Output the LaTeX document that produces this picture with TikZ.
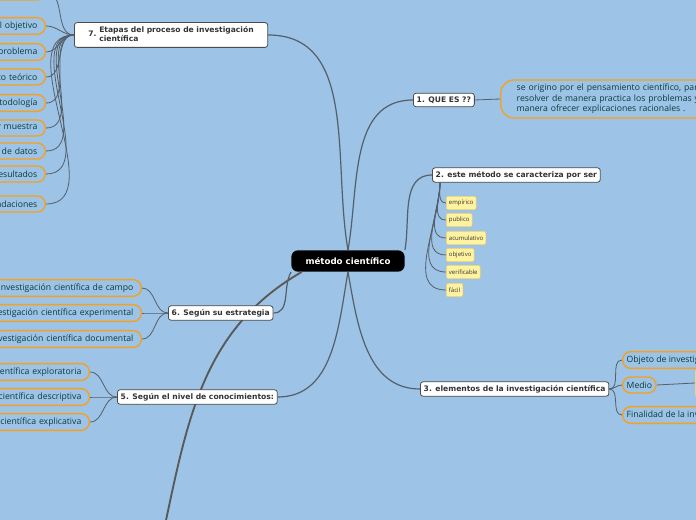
\documentclass[tikz,border=0pt]{standalone}
\usepackage{fontspec}
\setmainfont{Open Sans}
\newfontfamily\brfont{DejaVu Sans}
\definecolor{bg}{RGB}{157,195,230}
\definecolor{org}{RGB}{245,160,30}
\definecolor{ctext}{RGB}{10,60,60}
\definecolor{yfill}{RGB}{255,242,160}
\definecolor{yedge}{RGB}{240,210,100}
\definecolor{lnk}{RGB}{85,95,105}
\begin{document}
\begin{tikzpicture}[x=0.75pt,y=-0.75pt,
  branch/.style={draw=black!70,fill=white,rounded corners=2pt,line width=0.6pt,font=\brfont\bfseries\fontsize{5.7}{6.8}\selectfont,text=black!80,inner sep=2.5pt,anchor=west},
  leaf/.style={draw=org,fill=bg,rounded corners=6pt,line width=1pt,font=\fontsize{6.5}{8}\selectfont,text=ctext,minimum height=12pt,inner sep=3pt},
  leafL/.style={leaf,anchor=east,text width=80pt,align=right,inner xsep=6pt},
  yl/.style={draw=yedge,fill=yfill,rounded corners=1.5pt,font=\fontsize{4.5}{5}\selectfont,text=black!80,inner sep=2pt,minimum height=10pt,anchor=west},
  conn/.style={draw=lnk,line width=0.6pt},
  thick conn/.style={draw=black!65,line width=1.4pt}]
\useasboundingbox[fill=bg] (0,0) rectangle (696,520);
\node[fill=black,rounded corners=5pt,text=white,font=\brfont\bfseries\fontsize{6.5}{8}\selectfont,minimum width=85pt,minimum height=16pt] (c) at (348,261) {método científico};
\coordinate (down) at (165,525);
\begin{pgfonlayer}{main}\end{pgfonlayer}
\draw[thick conn] ([xshift=8pt]c.south west) to[out=-150,in=78] (down);
% branch 7
\node[branch,minimum width=145pt,minimum height=18pt,align=left,inner xsep=1.5pt] (b7) at (74,35) {7.\ \begin{tabular}[c]{@{}l@{}}Etapas del proceso de investigación\\científica\end{tabular}};
\foreach \n/\y/\t in {a/-8/{},b/26/el objetivo,d/52/problema,e/77/co teórico,f/103/todología,g/128/y muestra,h/151/n de datos,i/174/esultados,j/204/ndaciones}{
  \node[leafL] (l\n) at (46,\y) {\t};
  \draw[conn] (l\n.east) to[out=0,in=180] (b7.west);
}
% branch 1
\node[branch] (b1) at (413,100) {1. QUE ES ??};
\node[leaf,anchor=west,align=left,text width=150pt,inner xsep=12pt,rounded corners=10pt] (q) at (500,99) {se origino por el pensamiento científico, para\\resolver de manera practica los problemas y de\\manera ofrecer explicaciones racionales .};
\draw[conn] (b1.east) -- (q.west);
% branch 2
\node[branch] (b2) at (432,175) {2. este método se caracteriza por ser};
\foreach \n/\y/\t in {1/203/empírico,2/220/publico,3/238/acumulativo,4/255/objetivo,5/272/verificable,6/290/fácil}{
  \node[yl] (y\n) at (446,\y) {\t};
  \draw[conn] ([xshift=6pt]b2.south west) to[out=-90,in=180] (y\n.west);
}
% branch 3
\node[branch] (b3) at (420,389) {3. elementos de la investigación científica};
\node[leaf,anchor=west,minimum width=70pt,align=left] (o) at (622,360) {Objeto de investigación};
\node[leaf,anchor=west] (m) at (622,385) {Medio};
\node[yl,minimum height=20pt,minimum width=20pt] (my) at (695,383) {};
\node[leaf,anchor=west] (fi) at (622,415) {Finalidad de la investigación};
\draw[conn] (b3.east) to[out=0,in=180] (o.west);
\draw[conn] (b3.east) to[out=0,in=180] (m.west);
\draw[conn] (b3.east) to[out=0,in=180] (fi.west);
\draw[conn] (m.east) -- (my.west);
% branch 6
\node[branch] (b6) at (168,313) {6. Según su estrategia};
\node[leafL,text width=140pt] (s1) at (142,288) {Investigación científica de campo};
\node[leafL,text width=140pt] (s2) at (142,313) {vestigación científica experimental};
\node[leafL,text width=140pt] (s3) at (142,339) {nvestigación científica documental};
\foreach \n in {s1,s2,s3}{\draw[conn] (\n.east) to[out=0,in=180] (b6.west);}
% branch 5
\node[branch] (b5) at (117,397) {5. Según el nivel de conocimientos:};
\node[leafL] (n1) at (90,372) {científica exploratoria};
\node[leafL] (n2) at (90,397) {científica descriptiva};
\node[leafL] (n3) at (90,422) {n científica explicativa};
\foreach \n in {n1,n2,n3}{\draw[conn] (\n.east) to[out=0,in=180] (b5.west);}
% connectors from center
\draw[conn,line width=0.9pt] (c.north) to[out=100,in=0] (b7.east);
\draw[conn,line width=0.9pt] (c.north) to[out=80,in=180] (b1.west);
\draw[conn,line width=0.9pt] (c.north east) to[out=80,in=180] (b2.west);
\draw[conn,line width=0.9pt] (c.south) to[out=-80,in=180] (b3.west);
\draw[conn,line width=0.9pt] (c.south west) to[out=-120,in=0] (b6.east);
\draw[conn,line width=0.9pt] (c.south) to[out=-100,in=0] (b5.east);
\end{tikzpicture}
\end{document}
